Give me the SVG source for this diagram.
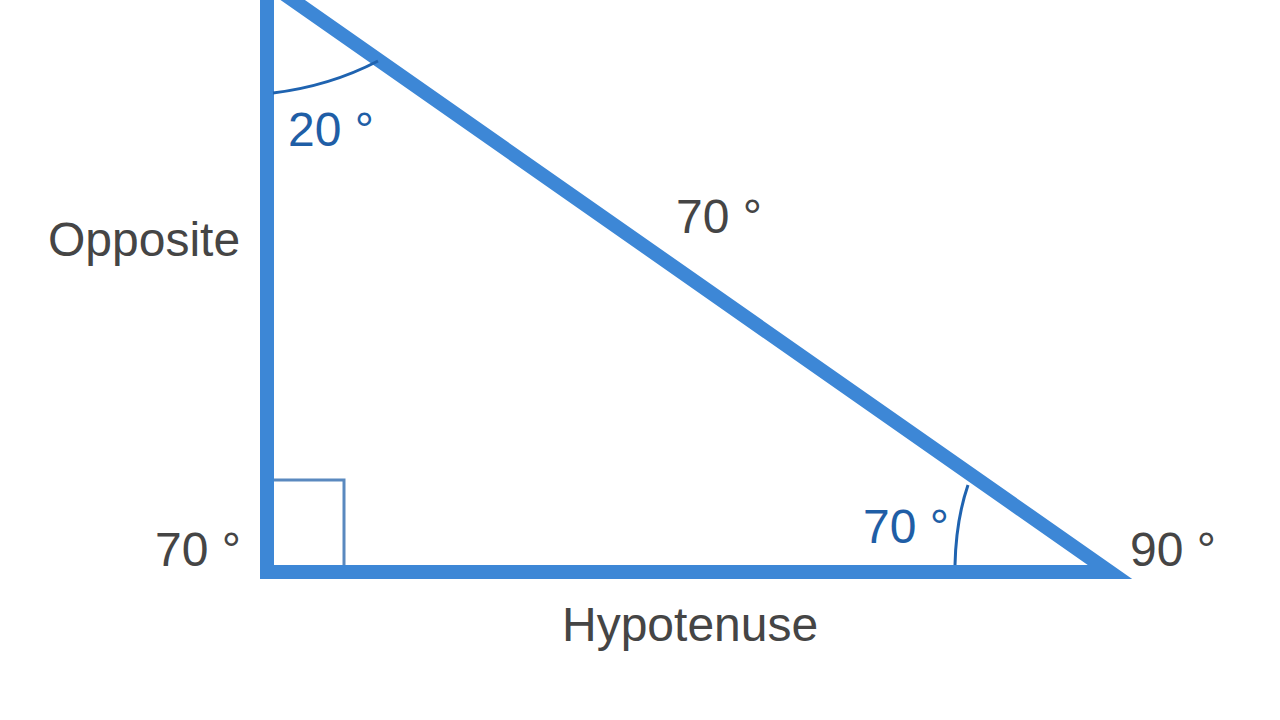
<svg xmlns="http://www.w3.org/2000/svg" width="1280" height="720" viewBox="0 0 1280 720">
<style>
.lbl{font-family:"Liberation Sans",Arial,sans-serif;font-size:48px;fill:#454545}
.blue{fill:#1f5ea6}
.tri{fill:none;stroke:#3d87d6;stroke-width:14;stroke-linejoin:miter;stroke-miterlimit:10}
.arc{fill:none;stroke:#1f63b0;stroke-width:3}
</style>
<rect width="1280" height="720" fill="#ffffff"/>
<g id="triangle">
<polygon class="tri" points="267,-18 267,572 1110,572"/>
</g>
<g id="right-angle">
<path d="M274,480 H344 V565" fill="none" stroke="#5a89bf" stroke-width="3"/>
</g>
<g id="connectors">
<path class="arc" d="M273,93 Q330,86 378,61"/>
<path class="arc" d="M955,565 Q956,520 968,485"/>
</g>
<g id="labels">
<text class="lbl blue" x="288" y="146">20 °</text>
<text class="lbl" x="48" y="256">Opposite</text>
<text class="lbl" x="676" y="233">70 °</text>
<text class="lbl" x="155" y="566">70 °</text>
<text class="lbl blue" x="863" y="543">70 °</text>
<text class="lbl" x="1130" y="566">90 °</text>
<text class="lbl" x="562" y="641">Hypotenuse</text>
</g>
</svg>
